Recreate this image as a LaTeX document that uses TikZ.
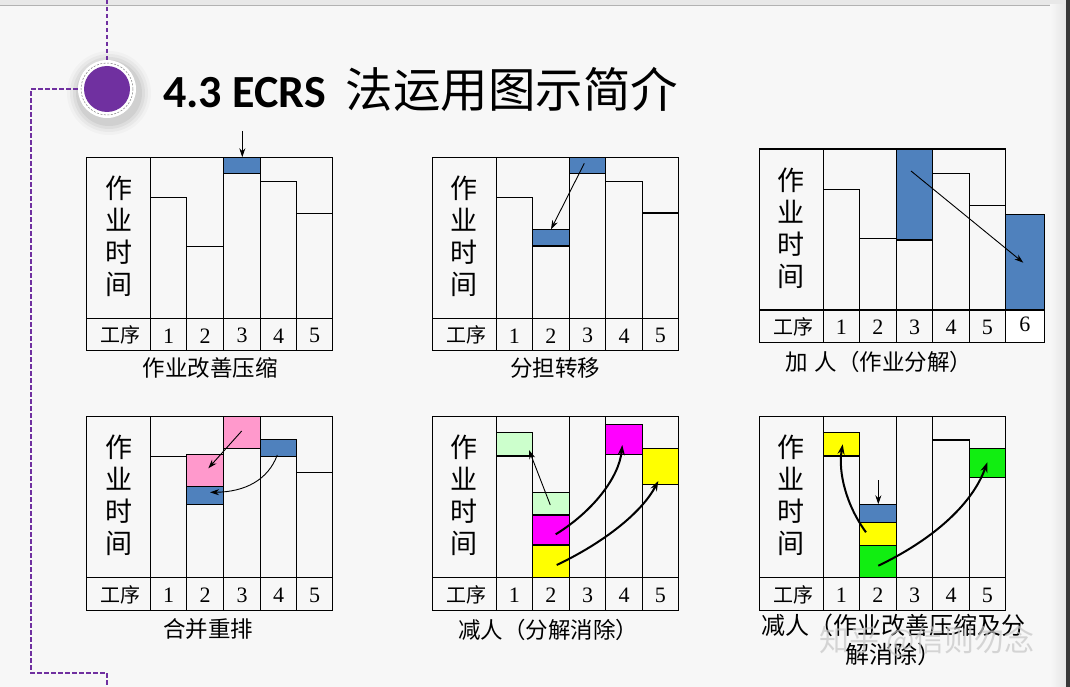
\documentclass[tikz,border=0pt]{standalone}
\usepackage{fontspec}
\setmainfont{Liberation Serif}
\newfontfamily\cjk{Noto Sans CJK SC}
\newfontfamily\calib{Carlito}
\usetikzlibrary{arrows.meta}
\definecolor{bg}{HTML}{F7F7F7}
\definecolor{topband}{HTML}{E8E8E8}
\definecolor{purp}{HTML}{7030A0}
\definecolor{barblue}{HTML}{4F81BD}
\definecolor{pinkc}{HTML}{FF99CC}
\definecolor{magc}{HTML}{FF00FF}
\definecolor{yelc}{HTML}{FFFF00}
\definecolor{lgreen}{HTML}{CCFFCC}
\definecolor{greenc}{HTML}{11EE11}
\tikzset{
  frame/.style={draw=black, line width=1.2pt},
  vlab/.style={font=\cjk\fontsize{27}{32}\selectfont, align=center, inner sep=0pt},
  cjklab/.style={font=\cjk\fontsize{20}{22}\selectfont, inner sep=0pt},
  numlab/.style={font=\fontsize{22}{24}\selectfont, inner sep=0pt},
  caption/.style={font=\cjk\fontsize{22.5}{29}\selectfont, inner sep=0pt},
  thinarrow/.style={draw=black, line width=0.9pt, -{Stealth[length=9pt,width=6pt]}},
  thickarrow/.style={draw=black, line width=2pt, -{Stealth[length=10pt,width=7pt]}},
  purpdash/.style={draw=purp, line width=1.8pt, dash pattern=on 4.5pt off 2.5pt},
}
\newcommand\chartgrid[1]{%
  \draw[frame] (0,0) rectangle (246,193.5);
  \draw[frame] (64,0) -- (64,193.5);
  \draw[frame] (0,161) -- (246,161);
  \foreach \x in {100,137,173.5,210} \draw[frame] (\x,161) -- (\x,193.5);
  \node[vlab] (#1v) at (32,79) {作\\业\\时\\间};
  \node[cjklab] (#1g) at (34,178) {工序};
  \foreach \x/\n in {82/1,118.5/2,155.3/3,191.8/4,228/5}
    \node[numlab] (#1n\n) at (\x,178.5) {\n};
}
\begin{document}
\begin{tikzpicture}[x=1pt,y=-1pt]
\useasboundingbox (0,0) rectangle (1070,687);
\fill[bg] (0,0) rectangle (1070,687);
\fill[topband] (0,0) rectangle (1070,5);
\draw[gray!60, line width=0.8pt] (0,5) -- (1066,5);
\shade[left color=bg, right color=black!10] (1050,5) rectangle (1066,687);
\fill[black!78] (1066,0) rectangle (1070,687);

% decorative dot with shadow
\foreach \r/\o in {42/0.025,39/0.035,36/0.045,33/0.06}
  \fill[black, opacity=\o] (109,93) circle (\r);
\node[circle, fill=white, minimum size=58pt, inner sep=0pt] (dot) at (107,89) {};
\draw[gray, line width=0.5pt, dash pattern=on 2pt off 1.5pt] (dot.center) circle (26);
\fill[purp] (dot.center) circle (23);
\coordinate (ptop) at (107,0);
\coordinate (pa) at (31,89);
\coordinate (pb) at (31,673);
\coordinate (pc) at (107,673);
\coordinate (pd) at (107,687);
\draw[purpdash] (ptop) -- (dot.north);
\draw[purpdash] (dot.west) -- (pa) -- (pb) -- (pc) -- (pd);

% title
\node[anchor=base west, inner sep=0pt] (title) at (163,108)
  {{\calib\bfseries\fontsize{46}{50}\selectfont 4.3 ECRS}\hspace{20pt}{\cjk\fontsize{47.5}{50}\selectfont 法运用图示简介}};

% ---------- chart 1 ----------
\begin{scope}[shift={(86.7,157.3)}]
  \chartgrid{c1}
  \draw[frame] (64,40) rectangle (100,161);
  \draw[frame] (100,89.4) rectangle (137,161);
  \draw[frame] (137,0) rectangle (173.5,161);
  \draw[frame] (173.5,24.4) rectangle (210,161);
  \draw[frame] (210,56) rectangle (246,161);
  \draw[frame, fill=barblue] (137,0) rectangle (173.5,16);
  \node[caption] (cap1) at (123.3,211) {作业改善压缩};
\end{scope}
% ---------- chart 2 ----------
\begin{scope}[shift={(432.3,157.3)}]
  \chartgrid{c2}
  \draw[frame] (64,40) rectangle (100,161);
  \draw[frame] (100,72) rectangle (137,161);
  \draw[frame] (137,0) rectangle (173.5,161);
  \draw[frame] (173.5,24) rectangle (210,161);
  \draw[frame] (210,55.7) rectangle (246,161);
  \draw[frame, fill=barblue] (100,72) rectangle (137,88.7);
  \draw[frame, fill=barblue] (137,0) rectangle (173.5,16);
  \node[caption] (cap2) at (122.7,211) {分担转移};
\end{scope}
% ---------- chart 3 ----------
\begin{scope}[shift={(759.3,149)}]
  \chartgrid{c3}
  \draw[frame] (64,40.3) rectangle (100,161);
  \draw[frame] (100,89.3) rectangle (137,161);
  \draw[frame] (137,0) rectangle (173.5,161);
  \draw[frame] (173.5,24.3) rectangle (210,161);
  \draw[frame] (210,56.3) rectangle (246,161);
  \draw[frame, fill=barblue] (137,0) rectangle (173.5,91);
  \draw[frame, fill=barblue] (246,65.7) rectangle (285,161);
  \draw[frame, fill=white, line width=1.6pt] (246,161) rectangle (285,193.5);
  \node[numlab] (c3n6) at (265.5,175) {6};
  \node[caption] (cap3) at (119.5,212.5) {加\hspace{7pt}人（作业分解）};
\end{scope}
% ---------- chart 4 ----------
\begin{scope}[shift={(86.7,416.7)}]
  \chartgrid{c4}
  \draw[frame] (64,40) rectangle (100,161);
  \draw[frame] (100,37.6) rectangle (137,161);
  \draw[frame] (137,0) rectangle (173.5,161);
  \draw[frame] (173.5,22.6) rectangle (210,161);
  \draw[frame] (210,56) rectangle (246,161);
  \draw[frame, fill=pinkc] (100,37.6) rectangle (137,69.6);
  \draw[frame, fill=barblue] (100,69.6) rectangle (137,87.6);
  \draw[frame, fill=pinkc] (137,0) rectangle (173.5,31.6);
  \draw[frame, fill=barblue] (173.5,22.6) rectangle (210,40);
  \node[caption] (cap4) at (121.6,212.5) {合并重排};
\end{scope}
% ---------- chart 5 ----------
\begin{scope}[shift={(432.3,416.7)}]
  \chartgrid{c5}
  \draw[frame] (64,15.6) rectangle (100,161);
  \draw[frame] (100,75.6) rectangle (137,161);
  \draw[frame] (137,0) rectangle (173.5,161);
  \draw[frame] (173.5,7.6) rectangle (210,161);
  \draw[frame] (210,31.6) rectangle (246,161);
  \draw[frame, fill=lgreen] (64,15.6) rectangle (100,39.3);
  \draw[frame, fill=lgreen] (100,75.6) rectangle (137,98.3);
  \draw[frame, fill=magc] (100,98.3) rectangle (137,128.3);
  \draw[frame, fill=yelc] (100,128.3) rectangle (137,161);
  \draw[frame, fill=magc] (173.5,7.6) rectangle (210,37.6);
  \draw[frame, fill=yelc] (210,31.6) rectangle (246,67.6);
  \node[caption] (cap5) at (115.7,213) {减人（分解消除）};
\end{scope}
% ---------- chart 6 ----------
\begin{scope}[shift={(759.3,416.7)}]
  \chartgrid{c6}
  \draw[frame] (64,15.6) rectangle (100,161);
  \draw[frame] (100,87.6) rectangle (137,161);
  \draw[frame] (137,0) rectangle (173.5,161);
  \draw[frame] (173.5,23.3) rectangle (210,161);
  \draw[frame] (210,31.6) rectangle (246,161);
  \draw[frame, fill=yelc] (64,15.6) rectangle (100,39.3);
  \draw[frame, fill=barblue] (100,87.6) rectangle (137,105.6);
  \draw[frame, fill=yelc] (100,105.6) rectangle (137,129);
  \draw[frame, fill=greenc] (100,129) rectangle (137,161);
  \draw[frame, fill=greenc] (210,31.6) rectangle (246,60.6);
  \node[caption, font=\cjk\fontsize{24}{29}\selectfont, text width=270pt, align=center] (cap6) at (134,223)
    {减人（作业改善压缩及分\\解消除）};
\end{scope}

% ---------- arrows ----------
\coordinate (a1s) at (242.3,131);   \coordinate (a1e) at (242.3,157.3);
\draw[thinarrow] (a1s) -- (a1e);
\coordinate (a2s) at (584.3,163.3); \coordinate (a2e) at (551,229.3);
\draw[thinarrow] (a2s) -- (a2e);
\coordinate (a3s) at (911,171);     \coordinate (a3e) at (1023.3,262.7);
\draw[thinarrow] (a3s) -- (a3e);
\coordinate (a4s) at (241.7,431);   \coordinate (a4e) at (208.3,468.3);
\draw[thinarrow] (a4s) -- (a4e);
\coordinate (a5s) at (277.3,455);   \coordinate (a5e) at (210,492.3);
\draw[thinarrow] (a5s) .. controls (268,480) and (245,492) .. (a5e);
\coordinate (a6s) at (550.3,505);   \coordinate (a6e) at (529,450);
\draw[thinarrow] (a6s) -- (a6e);
\coordinate (a7s) at (555.7,534.3); \coordinate (a7e) at (622.3,445);
\draw[thickarrow] (a7s) .. controls (592,512) and (619,478) .. (a7e);
\coordinate (a8s) at (556.7,565);   \coordinate (a8e) at (658.3,481);
\draw[thickarrow] (a8s) .. controls (605,542) and (642,512) .. (a8e);
\coordinate (a9s) at (878.3,480);   \coordinate (a9e) at (878.3,504.3);
\draw[thinarrow] (a9s) -- (a9e);
\coordinate (a10s) at (866,532.3);  \coordinate (a10e) at (842.7,444.3);
\draw[thickarrow] (a10s) .. controls (846,505) and (838,472) .. (a10e);
\coordinate (a11s) at (878.3,565.7); \coordinate (a11e) at (987.3,462.3);
\draw[thickarrow] (a11s) .. controls (932,540) and (972,505) .. (a11e);

% watermark
\node[font=\cjk\fontsize{30}{32}\selectfont, text=gray!45, opacity=0.7, inner sep=0pt] (wm) at (927,641) {知乎 @信则勿念};
\end{tikzpicture}
\end{document}
